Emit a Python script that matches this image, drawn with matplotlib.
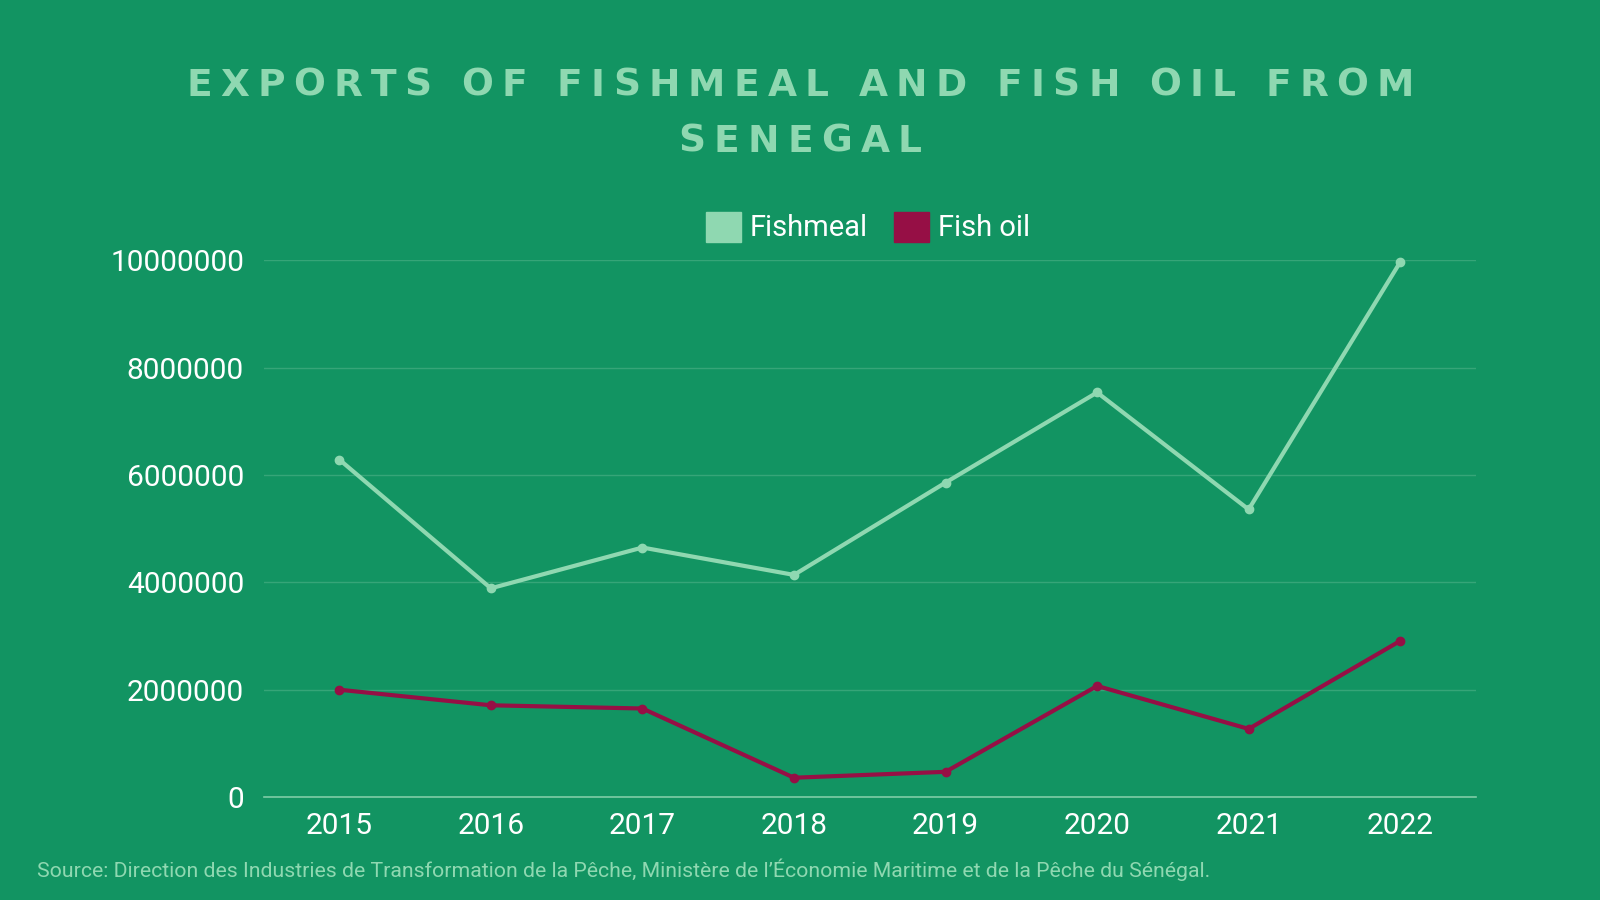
import matplotlib
matplotlib.use("Agg")
import matplotlib.pyplot as plt
from matplotlib.patches import Patch
from matplotlib.font_manager import FontProperties, findfont, get_font

years = ["2015", "2016", "2017", "2018", "2019", "2020", "2021", "2022"]
fishmeal = [6290000, 3890000, 4650000, 4140000, 5860000, 7540000, 5360000, 9970000]
fish_oil = [2000000, 1710000, 1650000, 360000, 470000, 2070000, 1270000, 2910000]
y_ticks = [0, 2000000, 4000000, 6000000, 8000000, 10000000]
title_lines = ["EXPORTS OF FISHMEAL AND FISH OIL FROM", "SENEGAL"]
source = ("Source: Direction des Industries de Transformation de la Pêche, "
          "Ministère de l’Économie Maritime et de la Pêche du Sénégal.")

BG = "#129462"
MINT = "#8fd8b1"
OIL = "#960f45"
DPI = 100

fig = plt.figure(figsize=(16, 9), dpi=DPI, facecolor=BG)
ax = fig.add_axes([0.1647, 0.1144, 0.9225 - 0.1647, 0.7106 - 0.1144])
ax.set_facecolor(BG)

x = list(range(len(years)))
ax.plot(x, fishmeal, color=MINT, lw=3, marker="o", ms=6, clip_on=False, zorder=3)
ax.plot(x, fish_oil, color=OIL, lw=3, marker="o", ms=6, clip_on=False, zorder=3)

ax.set_xlim(-0.5, len(years) - 0.5)
ax.set_ylim(0, 10000000)
ax.set_yticks(y_ticks)
ax.set_yticklabels([str(v) for v in y_ticks])
ax.set_xticks(x)
ax.set_xticklabels(years)
ax.tick_params(axis="both", length=0, labelsize=21.5, labelcolor="white")
ax.tick_params(axis="y", pad=14)
ax.tick_params(axis="x", pad=10.5)
for lbl in ax.get_xticklabels() + ax.get_yticklabels():
    lbl.set_fontfamily("Roboto")

ax.grid(axis="y", color="#4fb288", lw=1, alpha=0.6)
ax.set_axisbelow(True)
for s in ["top", "right", "left"]:
    ax.spines[s].set_visible(False)
ax.spines["bottom"].set_color("#7fcca6")
ax.spines["bottom"].set_linewidth(1.2)

handles = [Patch(facecolor=MINT, edgecolor=MINT, label="Fishmeal"),
           Patch(facecolor=OIL, edgecolor=OIL, label="Fish oil")]
fig.legend(handles=handles, loc="center", bbox_to_anchor=(868 / 1600, 1 - 227 / 900),
           ncol=2, frameon=False, prop={"family": "Roboto", "size": 21},
           labelcolor="white", handlelength=1.2, handleheight=1.2,
           handletextpad=0.3, columnspacing=0.9)

# Letter-spaced title
tprop = FontProperties(family="DejaVu Sans", weight="bold", size=27)
font = get_font(findfont(tprop))
font.set_size(27, DPI)


def advances(s):
    return [font.load_char(ord(c)).linearHoriAdvance / 65536.0 for c in s]


target_w = 1221.0
adv0 = advances(title_lines[0])
track = (target_w - sum(adv0[:-1]) - font.load_char(ord(title_lines[0][-1])).width / 64.0) / (len(title_lines[0]) - 1)

baselines = [96, 152]
for line, base in zip(title_lines, baselines):
    adv = advances(line)
    total = sum(adv[:-1]) + track * (len(line) - 1) + adv[-1]
    xpos = 800 - total / 2.0
    for c, a in zip(line, adv):
        if c != " ":
            fig.text(xpos / 1600, 1 - base / 900, c, ha="left", va="baseline",
                     color=MINT, fontproperties=tprop)
        xpos += a + track

fig.text(37 / 1600, 1 - 870 / 900, source,
         ha="left", va="center", color=MINT, fontsize=15.3, family="Roboto")

fig.savefig("out.png", dpi=DPI, facecolor=BG)
